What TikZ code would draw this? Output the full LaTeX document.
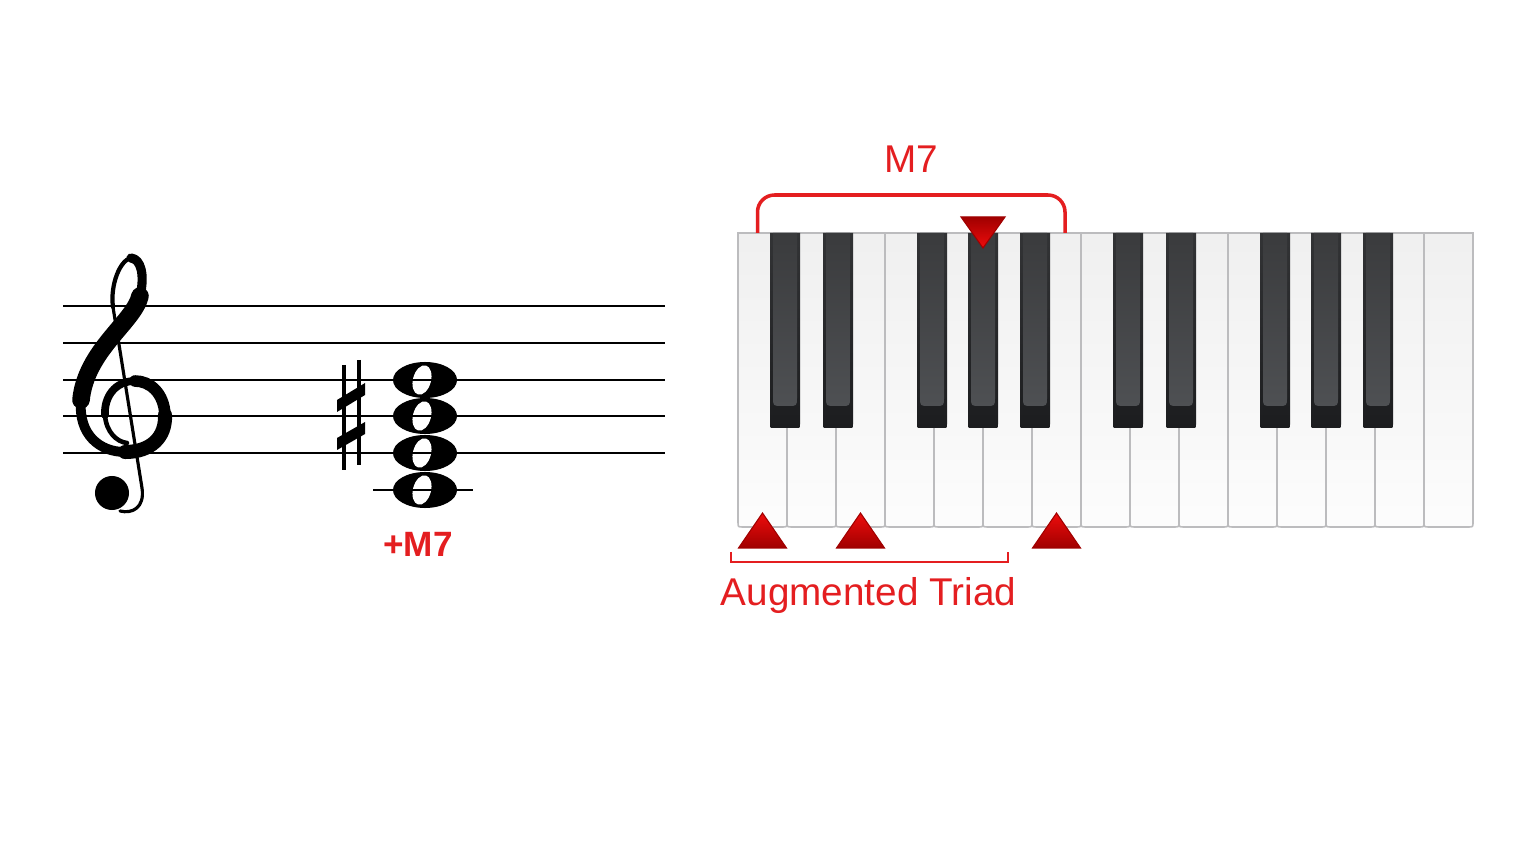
\documentclass[tikz,border=0pt]{standalone}
\usepackage{fontspec}
\setmainfont{Liberation Sans}
\usetikzlibrary{calc}

\definecolor{chordred}{RGB}{228,30,32}
\definecolor{markred}{RGB}{238,12,12}
\definecolor{markdark}{RGB}{160,0,0}
\definecolor{keyedge}{RGB}{188,188,190}
\definecolor{ebony}{RGB}{50,51,53}
\definecolor{ebonydark}{RGB}{28,29,31}
\definecolor{ebonylight}{RGB}{78,80,83}

\begin{document}
\begin{tikzpicture}[
        x=0.01cm, y=-0.01cm,
        stave/.style={line width=0.7pt},
        clef/.style={line width=#1, line cap=round, line join=round},
        whitekey/.style={draw=keyedge, line width=0.45pt, top color=black!6, bottom color=black!1},
        blackkey/.style={top color=ebony, bottom color=ebonydark},
        keyshine/.style={top color=ebony!96!white, bottom color=ebonylight},
        marker/.style={draw=markdark, line width=0.3pt, top color=markred, bottom color=markdark},
        markerdown/.style={draw=markdark, line width=0.3pt, top color=markdark, bottom color=markred},
        bracket/.style={draw=chordred, line width=1pt, rounded corners=0.17cm},
        thinbracket/.style={draw=chordred, line width=0.65pt},
        redtext/.style={text=chordred, inner sep=0pt, anchor=base, font=\fontsize{11}{13}\selectfont},
    ]

        \path[fill=white] (0,0) rectangle (1536,864);

        % Draw the chord notes (staff lines go over them)
        \foreach \y in {490,453,416,380} {
            \fill (425,\y) ellipse (0.32cm and 0.18cm);
            \fill[white, rotate around={-15:(422,\y)}] (422,\y) ellipse (0.09cm and 0.15cm);
        }

        % Draw the staff and the ledger line
        \foreach \y in {306,343,380,416,453}
            \draw[stave] (63,\y) -- (665,\y);
        \draw[stave] (373,490) -- (473,490);

        % Draw the treble clef
        \coordinate (clef-tip) at (131,258);
        \coordinate (clef-end) at (127,443);
        \draw[clef=2.6pt] (clef-tip) .. controls (141,259) and (145,275) .. (140,296);
        \draw[clef=5pt] (140,296) .. controls (134,322) and (86,350) .. (81,400);
        \draw[clef=2.8pt] (81,400) .. controls (78,435) and (100,452) .. (125,452);
        \draw[clef=4pt] (125,452) .. controls (151,452) and (166,437) .. (165,415);
        \draw[clef=3.3pt] (165,415) .. controls (164,393) and (150,381) .. (135,381);
        \draw[clef=2.2pt] (135,381) .. controls (115,381) and (104,397) .. (105,415);
        \draw[clef=1.3pt] (105,415) .. controls (106,432) and (117,442) .. (clef-end);
        \draw[clef=1.2pt] (clef-tip) .. controls (120,260) and (110,285) .. (113,307);
        \draw[clef=0.9pt] (113,307) -- (142,488) .. controls (145,508) and (132,514) .. (120,511);
        \fill (112,493) circle (0.17cm);

        % Draw the sharp
        \draw[line width=0.95pt] (344,365) -- (344,470) (359,360) -- (359,465);
        \fill (337,400) -- (365,383) -- (365,395) -- (337,412) -- cycle;
        \fill (337,438) -- (365,422) -- (365,434) -- (337,450) -- cycle;

        \node[redtext, font=\bfseries\fontsize{10}{12}\selectfont] (chord-label) at (418,557) {+M7};

        % Draw the white keys
        \foreach \i [evaluate=\i as \x using 738+49*\i] in {0,...,14} {
            \coordinate (W-\i) at (\x,233);
            \path[whitekey] (W-\i) -- (\x,522) .. controls (\x,527) .. (\x+5,527)
                -- (\x+44,527) .. controls (\x+49,527) .. (\x+49,522) -- (\x+49,233) -- cycle;
        }

        % Draw the black keys
        \foreach \c [count=\n] in {785,838,932,983,1035,1128,1181,1275,1326,1378} {
            \coordinate (B-\n) at (\c,233);
            \path[blackkey] (B-\n) ++(-15,0) -- (\c-15,424) .. controls (\c-15,428) .. (\c-11,428)
                -- (\c+11,428) .. controls (\c+15,428) .. (\c+15,424) -- (\c+15,233) -- cycle;
            \path[keyshine] (\c-12,233) -- (\c-12,397) .. controls (\c-12,406) .. (\c-3,406)
                -- (\c+3,406) .. controls (\c+12,406) .. (\c+12,397) -- (\c+12,233) -- cycle;
        }

        % Mark the chord tones
        \foreach \k [evaluate=\k as \x using 762.5+49*\k] in {0,2,6} {
            \coordinate (mark-\k) at (\x,513);
            \path[marker] (mark-\k) -- (\x+24,548) -- (\x-24,548) -- cycle;
        }
        \coordinate (mark-gis) at (983,248);
        \path[markerdown] (mark-gis) -- (1005,217) -- (961,217) -- cycle;

        % Brackets and their labels
        \coordinate (m7-a) at (757.5,233);
        \coordinate (m7-b) at (1065,233);
        \draw[bracket] (m7-a) -- ++(0,-38) -| (m7-b);
        \node[redtext] (m7-label) at (911.5,173) {M7};

        \coordinate (aug-a) at (731,552);
        \coordinate (aug-b) at (1008,552);
        \draw[thinbracket] (aug-a) -- ++(0,10) -| (aug-b);
        \node[redtext] (aug-label) at (868.5,605) {Augmented Triad};
    \end{tikzpicture}
\end{document}
